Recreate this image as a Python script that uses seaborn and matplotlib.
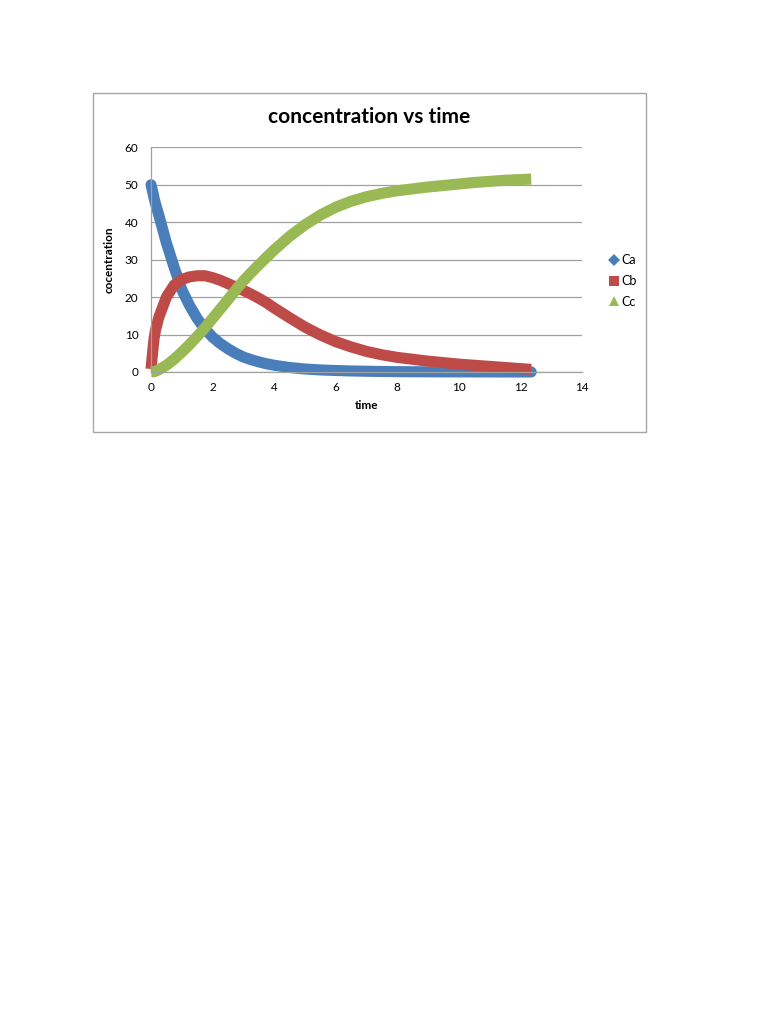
import matplotlib
matplotlib.use("Agg")
import matplotlib.pyplot as plt
from matplotlib.lines import Line2D
from matplotlib.patches import Rectangle
import seaborn as sns
import pandas as pd

time = [0, 0.05, 0.1, 0.15, 0.25, 0.5, 0.75, 1.0, 1.25, 1.5, 1.75, 2.0, 2.25, 2.5, 2.75,
        3.0, 3.25, 3.5, 3.75, 4.0, 4.5, 5.0, 5.5, 6.0, 6.5, 7.0, 7.5, 8.0, 8.5, 9.0,
        9.5, 10.0, 10.5, 11.0, 11.5, 12.0, 12.35]
ca = [50, 48.3, 46.4, 44.8, 42, 34.5, 28, 22, 17.8, 14.3, 11.5, 9.3, 7.6, 6.2, 5.0,
      4.0, 3.3, 2.7, 2.2, 1.8, 1.2, 0.8, 0.55, 0.4, 0.28, 0.2, 0.14, 0.1, 0.07, 0.05,
      0.04, 0.03, 0.02, 0.02, 0.01, 0.01, 0.01]
cb = [0.8, 5.0, 9.0, 11.3, 14.5, 20, 23.2, 24.7, 25.4, 25.7, 25.7, 25.2, 24.5, 23.6, 22.7,
      21.8, 20.8, 19.7, 18.5, 17.1, 14.5, 12.0, 9.9, 8.1, 6.7, 5.5, 4.6, 3.9, 3.4, 2.9,
      2.5, 2.1, 1.8, 1.5, 1.2, 0.9, 0.7]
cc = [0, 0.05, 0.1, 0.2, 0.6, 1.8, 3.4, 5.3, 7.3, 9.5, 11.8, 14.3, 16.8, 19.3, 21.9,
      24.3, 26.5, 28.6, 30.6, 32.6, 36.2, 39.3, 41.9, 44.0, 45.6, 46.8, 47.7, 48.4, 48.9, 49.4,
      49.8, 50.2, 50.6, 50.9, 51.2, 51.4, 51.5]
series_names = ["Ca", "Cb", "Cc"]
title_text = "concentration vs time"
x_label = "time"
y_label = "cocentration"
x_ticks = [0, 2, 4, 6, 8, 10, 12, 14]
y_ticks = [0, 10, 20, 30, 40, 50, 60]

colors = {"Ca": "#4A7EBB", "Cb": "#BE4B48", "Cc": "#98B954"}
markers = {"Ca": "D", "Cb": "s", "Cc": "^"}
caps = {"Ca": "round", "Cb": "butt", "Cc": "butt"}

sns.set_theme(style="white")
plt.rcParams["font.family"] = ["Lato", "DejaVu Sans"]
plt.rcParams["text.color"] = "black"
plt.rcParams["axes.labelcolor"] = "black"

df = pd.DataFrame({"time": time * 3,
                   "value": ca + cb + cc,
                   "series": [series_names[0]] * len(time) + [series_names[1]] * len(time)
                             + [series_names[2]] * len(time)})

fig = plt.figure(figsize=(7.68, 10.24), dpi=100)
fig.patch.set_facecolor("white")
fig.patches.append(Rectangle((92.5 / 768, 1 - 432 / 1024), (646 - 92.5) / 768, (432 - 93) / 1024,
                             transform=fig.transFigure, fill=False, edgecolor="#A6A6A6",
                             linewidth=1.0))
ax = fig.add_axes([151 / 768, 1 - 372 / 1024, 431 / 768, (372 - 147.3) / 1024])

for name in series_names:
    sub = df[df["series"] == name]
    sns.lineplot(data=sub, x="time", y="value", ax=ax, color=colors[name], linewidth=8,
                 estimator=None, sort=True, solid_capstyle=caps[name],
                 solid_joinstyle="round", legend=False)

ax.set_xlim(0, 14)
ax.set_ylim(0, 60)
ax.set_xticks(x_ticks)
ax.set_yticks(y_ticks)
ax.set_xticklabels([str(t) for t in x_ticks])
ax.set_yticklabels([str(t) for t in y_ticks])
ax.tick_params(axis="both", length=0, labelsize=8.5, colors="#000000")
ax.tick_params(axis="y", pad=9)
ax.tick_params(axis="x", pad=7)
ax.yaxis.grid(True, color="#A0A0A0", linewidth=0.9)
ax.xaxis.grid(False)
ax.set_axisbelow(True)
for side in ["top", "right"]:
    ax.spines[side].set_visible(False)
ax.spines["left"].set_color("#A0A0A0")
ax.spines["bottom"].set_color("#A0A0A0")
ax.spines["left"].set_linewidth(0.9)
ax.spines["bottom"].set_linewidth(0.9)
for l in ax.lines:
    l.set_clip_on(False)

ax.set_xlabel(x_label, fontsize=8.5, fontweight="bold", labelpad=5, color="black")
ax.set_ylabel(y_label, fontsize=8.5, fontweight="bold", labelpad=7, color="black")
fig.text(369 / 768, 1 - 117 / 1024, title_text, ha="center", va="center",
         fontsize=15, fontweight="bold", color="black")

handles = [Line2D([], [], linestyle="none", marker=markers[s], color=colors[s],
                  markersize=6 if s == "Ca" else 7, markeredgewidth=0) for s in series_names]
leg = fig.legend(handles, series_names, loc="center left",
                 bbox_to_anchor=(603 / 768, 1 - 281 / 1024), frameon=False, fontsize=9,
                 handlelength=0.8, handletextpad=0.2, labelspacing=0.7, borderpad=0)
for t in leg.get_texts():
    t.set_color("black")

fig.savefig("out.png", dpi=100, facecolor="white")
